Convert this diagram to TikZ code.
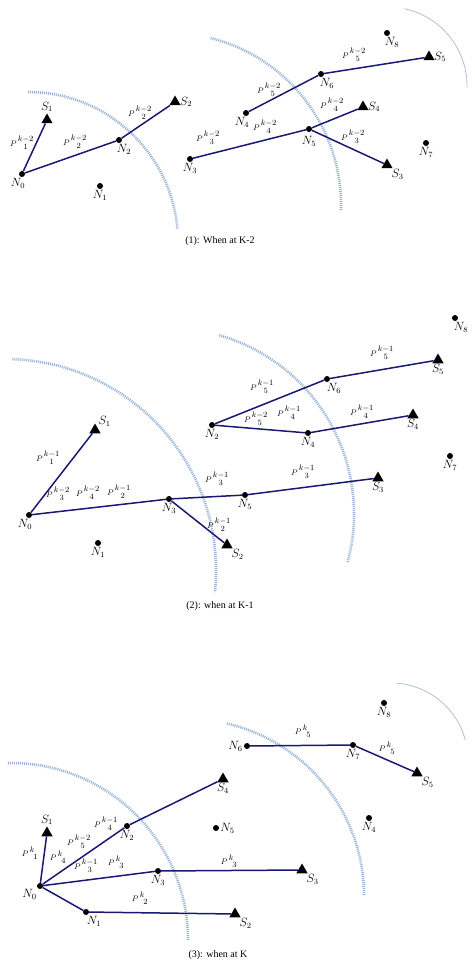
\documentclass[tikz,border=0pt]{standalone}
\usepackage{fontspec}
\setmainfont{Liberation Serif}
\usepackage{tikz}
\usetikzlibrary{shapes.geometric}
\usepackage{xcolor}
\definecolor{linkblue}{RGB}{25,25,115}
\definecolor{rangeblue}{RGB}{150,178,212}
\definecolor{edgegray}{RGB}{175,192,212}

\begin{document}
\begin{tikzpicture}[%
    x=1pt,
    y=-1pt,
    relay/.style={%
      circle,
      fill=black,
      inner sep=0pt,
      minimum size=6pt
    },
    sink/.style={%
      regular polygon,
      regular polygon sides=3,
      fill=black,
      inner sep=0pt,
      minimum size=13pt
    },
    link/.style={draw=linkblue, line width=1.5pt},
    reach/.style={draw=rangeblue, line width=2.6pt, dash pattern=on 1pt off 1pt},
    rim/.style={draw=edgegray, line width=0.8pt},
    plab/.style={font=\large, inner sep=0pt},
    every label/.style={font=\large, inner sep=1pt}
  ]
    \useasboundingbox (0,0) rectangle (474,968);

    \draw[reach] (28,242) ++(-90:150) arc[start angle=-90, end angle=-5, radius=150];
    \draw[reach] (169,205) ++(-76:172) arc[start angle=-76, end angle=2, radius=172];
    \draw[rim] (388,86) ++(-78:79) arc[start angle=-78, end angle=1, radius=79];

    \node[relay, label={[xshift=-4pt]below:$N_0$}] (A-N0) at (22,174) {};
    \node[relay, label=below:$N_1$]                (A-N1) at (100,186) {};
    \node[relay, label={[xshift=5pt]below:$N_2$}]  (A-N2) at (119,140) {};
    \node[relay, label=below:$N_3$]                (A-N3) at (190,159) {};
    \node[relay, label={[xshift=-4pt]below:$N_4$}] (A-N4) at (246,113) {};
    \node[relay, label={[label distance=3pt]below:$N_5$}] (A-N5) at (309,129) {};
    \node[relay, label={[xshift=6pt]below:$N_6$}]  (A-N6) at (321,74) {};
    \node[relay, label=below:$N_7$]                (A-N7) at (426,143) {};
    \node[relay, label={[xshift=5pt]below:$N_8$}]  (A-N8) at (387,33) {};
    \node[sink, label=above:$S_1$]       (A-S1) at (47,120) {};
    \node[sink, label=right:$S_2$]       (A-S2) at (175,102) {};
    \node[sink, label=below right:$S_3$] (A-S3) at (387,165) {};
    \node[sink, label=right:$S_4$]       (A-S4) at (363,107) {};
    \node[sink, label=right:$S_5$]       (A-S5) at (429,57) {};

    \draw[link] (A-N0) -- (A-S1);
    \draw[link] (A-N0) -- (A-N2) -- (A-S2);
    \draw[link] (A-N3) -- (A-N5) -- (A-S4);
    \draw[link] (A-N5) -- (A-S3);
    \draw[link] (A-N4) -- (A-N6) -- (A-S5);

    \node[plab] (A-p1) at (22,143)  {${\scriptstyle P}^{\,k-2}_{\;\;\;1}$};
    \node[plab] (A-p2) at (75,142)  {${\scriptstyle P}^{\,k-2}_{\;\;\;2}$};
    \node[plab] (A-p3) at (140,113) {${\scriptstyle P}^{\,k-2}_{\;\;\;2}$};
    \node[plab] (A-p4) at (208,138) {${\scriptstyle P}^{\,k-2}_{\;\;\;3}$};
    \node[plab] (A-p5) at (354,55)  {${\scriptstyle P}^{\,k-2}_{\;\;\;5}$};
    \node[plab] (A-p6) at (269,90)  {${\scriptstyle P}^{\,k-2}_{\;\;\;5}$};
    \node[plab] (A-p7) at (332,105) {${\scriptstyle P}^{\,k-2}_{\;\;\;4}$};
    \node[plab] (A-p8) at (265,127) {${\scriptstyle P}^{\,k-2}_{\;\;\;4}$};
    \node[plab] (A-p9) at (353,137) {${\scriptstyle P}^{\,k-2}_{\;\;\;3}$};

    \node (A-cap) at (220,241) {(1): When at K-2};

    \draw[reach] (5,570) ++(-88:211) arc[start angle=-88, end angle=6, radius=211];
    \draw[reach] (168,514) ++(-74:186) arc[start angle=-74, end angle=15, radius=186];

    \node[relay, label={[xshift=-4pt]below:$N_0$}] (B-N0) at (29,515) {};
    \node[relay, label=below:$N_1$]                (B-N1) at (98,543) {};
    \node[relay, label=below:$N_2$]                (B-N2) at (212,425) {};
    \node[relay, label=below:$N_3$]                (B-N3) at (169,499) {};
    \node[relay, label=below:$N_4$]                (B-N4) at (308,433) {};
    \node[relay, label=below:$N_5$]                (B-N5) at (245,495) {};
    \node[relay, label={[xshift=7pt]below:$N_6$}]  (B-N6) at (327,379) {};
    \node[relay, label=below:$N_7$]                (B-N7) at (450,456) {};
    \node[relay, label={[xshift=6pt]below:$N_8$}]  (B-N8) at (455,318) {};
    \node[sink, label=above right:$S_1$] (B-S1) at (95,430) {};
    \node[sink, label=below right:$S_2$] (B-S2) at (227,545) {};
    \node[sink, label=below:$S_3$]       (B-S3) at (378,478) {};
    \node[sink, label=below:$S_4$]       (B-S4) at (413,415) {};
    \node[sink, label=below:$S_5$]       (B-S5) at (438,360) {};

    \draw[link] (B-N0) -- (B-S1);
    \draw[link] (B-N0) -- (B-N3) -- (B-N5) -- (B-S3);
    \draw[link] (B-N3) -- (B-S2);
    \draw[link] (B-N2) -- (B-N6) -- (B-S5);
    \draw[link] (B-N2) -- (B-N4) -- (B-S4);

    \node[plab] (B-p1)  at (48,458)  {${\scriptstyle P}^{\,k-1}_{\;\;\;1}$};
    \node[plab] (B-p2)  at (58,494)  {${\scriptstyle P}^{\,k-2}_{\;\;\;3}$};
    \node[plab] (B-p3)  at (88,493)  {${\scriptstyle P}^{\,k-2}_{\;\;\;4}$};
    \node[plab] (B-p4)  at (119,492) {${\scriptstyle P}^{\,k-1}_{\;\;\;2}$};
    \node[plab] (B-p5)  at (217,479) {${\scriptstyle P}^{\,k-1}_{\;\;\;3}$};
    \node[plab] (B-p6)  at (219,525) {${\scriptstyle P}^{\,k-1}_{\;\;\;2}$};
    \node[plab] (B-p7)  at (382,353) {${\scriptstyle P}^{\,k-1}_{\;\;\;5}$};
    \node[plab] (B-p8)  at (262,387) {${\scriptstyle P}^{\,k-1}_{\;\;\;5}$};
    \node[plab] (B-p9)  at (256,419) {${\scriptstyle P}^{\,k-2}_{\;\;\;5}$};
    \node[plab] (B-p10) at (289,413) {${\scriptstyle P}^{\,k-1}_{\;\;\;4}$};
    \node[plab] (B-p11) at (362,412) {${\scriptstyle P}^{\,k-1}_{\;\;\;4}$};
    \node[plab] (B-p12) at (303,472) {${\scriptstyle P}^{\,k-1}_{\;\;\;3}$};

    \node (B-cap) at (220,606) {(2): when at K-1};

    \draw[reach] (11,940) ++(-91:177) arc[start angle=-91, end angle=0, radius=177];
    \draw[reach] (187,896) ++(-77:177) arc[start angle=-77, end angle=0, radius=177];
    \draw[rim] (391,760) ++(-86:77) arc[start angle=-86, end angle=-15, radius=77];

    \node[relay, label=below left:$N_0$]           (C-N0) at (40,886) {};
    \node[relay, label={[xshift=8pt]below:$N_1$}]  (C-N1) at (86,912) {};
    \node[relay, label=below:$N_2$]                (C-N2) at (127,826) {};
    \node[relay, label=below:$N_3$]                (C-N3) at (158,871) {};
    \node[relay, label=below:$N_4$]                (C-N4) at (369,818) {};
    \node[relay, label=right:$N_5$]                (C-N5) at (216,828) {};
    \node[relay, label=left:$N_6$]                 (C-N6) at (247,746) {};
    \node[relay, label=below:$N_7$]                (C-N7) at (353,745) {};
    \node[relay, label=below:$N_8$]                (C-N8) at (384,703) {};
    \node[sink, label=above:$S_1$]       (C-S1) at (47,833) {};
    \node[sink, label=below right:$S_2$] (C-S2) at (235,914) {};
    \node[sink, label=below right:$S_3$] (C-S3) at (302,870) {};
    \node[sink, label=below:$S_4$]       (C-S4) at (223,779) {};
    \node[sink, label=below right:$S_5$] (C-S5) at (417,773) {};

    \draw[link] (C-N0) -- (C-S1);
    \draw[link] (C-N0) -- (C-N2) -- (C-S4);
    \draw[link] (C-N0) -- (C-N3) -- (C-S3);
    \draw[link] (C-N0) -- (C-N1) -- (C-S2);
    \draw[link] (C-N6) -- (C-N7) -- (C-S5);

    \node[plab] (C-p1)  at (30,853)  {${\scriptstyle P}^{\,k}_{\;\;1}$};
    \node[plab] (C-p2)  at (58,857)  {${\scriptstyle P}^{\,k}_{\;\;4}$};
    \node[plab] (C-p3)  at (79,842)  {${\scriptstyle P}^{\,k-2}_{\;\;\;5}$};
    \node[plab] (C-p4)  at (106,824) {${\scriptstyle P}^{\,k-1}_{\;\;\;4}$};
    \node[plab] (C-p5)  at (86,866)  {${\scriptstyle P}^{\,k-1}_{\;\;\;3}$};
    \node[plab] (C-p6)  at (116,862) {${\scriptstyle P}^{\,k}_{\;\;3}$};
    \node[plab] (C-p7)  at (229,861) {${\scriptstyle P}^{\,k}_{\;\;3}$};
    \node[plab] (C-p8)  at (140,898) {${\scriptstyle P}^{\,k}_{\;\;2}$};
    \node[plab] (C-p9)  at (303,731) {${\scriptstyle P}^{\,k}_{\;\;5}$};
    \node[plab] (C-p10) at (387,748) {${\scriptstyle P}^{\,k}_{\;\;5}$};

    \node (C-cap) at (218,955) {(3): when at K};
\end{tikzpicture}
\end{document}
